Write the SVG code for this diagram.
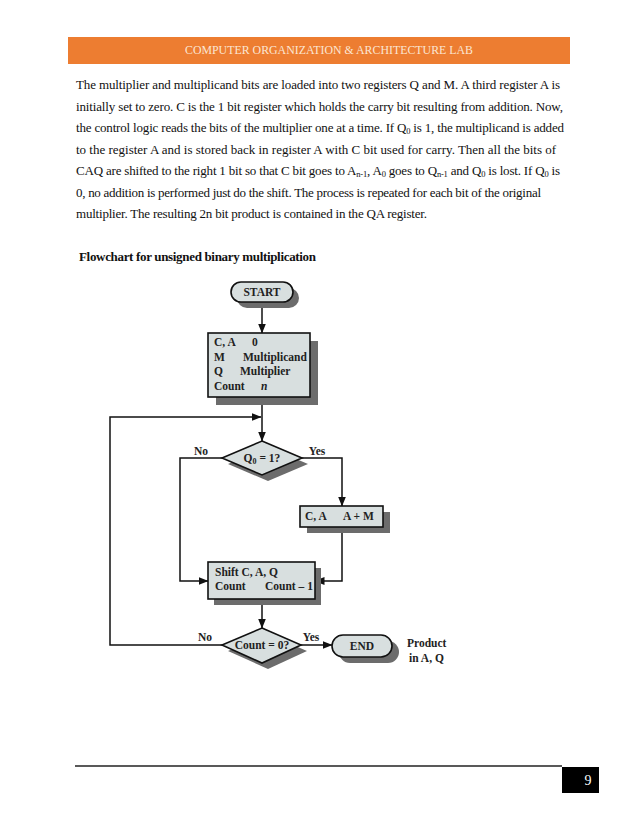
<svg xmlns="http://www.w3.org/2000/svg" width="638" height="826" viewBox="0 0 638 826">
<style>
.body{font-family:"Liberation Serif","Times New Roman",serif;font-size:13px;fill:#111}
.sub{font-size:8.5px}
.hdr{font-family:"Liberation Serif","Times New Roman",serif;font-size:12px;fill:#fbe6d4}
.t{font-family:"Liberation Serif","Times New Roman",serif;font-size:11.5px;font-weight:bold;fill:#222}
.shape{fill:#d8dfdf;stroke:#111;stroke-width:1.6}
.shadow{fill:#6c6c6c}
.conn{fill:none;stroke:#111;stroke-width:1.5}
</style>
<defs>
<marker id="ah" markerWidth="10" markerHeight="8" refX="9.5" refY="4" orient="auto" markerUnits="userSpaceOnUse">
<path d="M0,0 L10,4 L0,8 z" fill="#111"/>
</marker>
</defs>
<rect width="638" height="826" fill="#ffffff"/>
<g id="header">
<rect x="68" y="37" width="502" height="27" fill="#ed7d31"/>
<text class="hdr" x="185" y="54" textLength="288" lengthAdjust="spacingAndGlyphs">COMPUTER ORGANIZATION &amp; ARCHITECTURE LAB</text>
</g>
<g id="paragraph">
<text class="body" x="76" y="89" textLength="484" lengthAdjust="spacing">The multiplier  and multiplicand  bits are loaded into two registers  Q and M. A third register  A is</text>
<text class="body" x="76" y="110.5" textLength="487" lengthAdjust="spacing">initially  set to zero. C is the 1 bit register  which  holds the carry bit resulting  from addition. Now,</text>
<text class="body" x="76" y="132" textLength="488" lengthAdjust="spacing">the control logic  reads the bits of the multiplier  one at a time.  If Q<tspan class="sub" dy="2">0</tspan><tspan dy="-2"> is 1, the multiplicand  is added</tspan></text>
<text class="body" x="76" y="153.5" textLength="480" lengthAdjust="spacing">to the register  A and is stored back in register  A with C bit used for carry. Then  all the bits of</text>
<text class="body" x="76" y="175" textLength="484" lengthAdjust="spacing">CAQ are shifted  to the right  1 bit so that C bit goes to A<tspan class="sub" dy="2">n-1</tspan><tspan dy="-2">, A</tspan><tspan class="sub" dy="2">0</tspan><tspan dy="-2"> goes to Q</tspan><tspan class="sub" dy="2">n-1</tspan><tspan dy="-2"> and Q</tspan><tspan class="sub" dy="2">0</tspan><tspan dy="-2"> is lost.  If Q</tspan><tspan class="sub" dy="2">0</tspan><tspan dy="-2"> is</tspan></text>
<text class="body" x="76" y="196.5" textLength="465" lengthAdjust="spacing">0, no addition  is performed  just do the shift.  The process is repeated for each bit of the original</text>
<text class="body" x="76" y="218" textLength="351" lengthAdjust="spacing">multiplier.  The resulting  2n bit product is contained  in the QA register.</text>
</g>
<g id="caption">
<text class="body" x="79" y="261" font-weight="bold" font-size="12.5" textLength="237" lengthAdjust="spacing">Flowchart  for unsigned binary  multiplication</text>
</g>
<g id="connectors">
<path class="conn" d="M262,302 V333" marker-end="url(#ah)"/>
<path class="conn" d="M262,397 V441" marker-end="url(#ah)"/>
<path class="conn" d="M222,645 H110 V417 H261" marker-end="url(#ah)"/>
<path class="conn" d="M222,458 H180 V581 H208" marker-end="url(#ah)"/>
<path class="conn" d="M302,458 H342 V506" marker-end="url(#ah)"/>
<path class="conn" d="M342,527 V581 H315" marker-end="url(#ah)"/>
<path class="conn" d="M262,599 V628" marker-end="url(#ah)"/>
<path class="conn" d="M301,645 H332" marker-end="url(#ah)"/>
</g>
<g id="start">
<rect class="shadow" x="237" y="288" width="62" height="20" rx="10"/>
<rect class="shape" x="231" y="282" width="62" height="20" rx="10"/>
<text class="t" x="262" y="296" text-anchor="middle">START</text>
</g>
<g id="init">
<rect class="shadow" x="216" y="341" width="102" height="64"/>
<rect class="shape" x="208" y="333" width="102" height="64"/>
<text class="t" x="214" y="346">C, A</text>
<text class="t" x="252" y="346">0</text>
<text class="t" x="214" y="361">M</text>
<text class="t" x="243" y="361">Multiplicand</text>
<text class="t" x="214" y="375">Q</text>
<text class="t" x="240" y="375">Multiplier</text>
<text class="t" x="214" y="390">Count</text>
<text class="t" x="261" y="390" font-style="italic">n</text>
</g>
<g id="q0test">
<polygon class="shadow" points="268,447 308,464 268,481 228,464"/>
<polygon class="shape" points="262,441 302,458 262,475 222,458"/>
<text class="t" x="262" y="462" text-anchor="middle">Q<tspan font-size="8" dy="2">0</tspan><tspan dy="-2"> = 1?</tspan></text>
<text class="t" x="201" y="455" text-anchor="middle">No</text>
<text class="t" x="317" y="455" text-anchor="middle">Yes</text>
</g>
<g id="add">
<rect class="shadow" x="307" y="512" width="83" height="21"/>
<rect class="shape" x="300" y="506" width="83" height="21"/>
<text class="t" x="305" y="520">C, A</text>
<text class="t" x="343" y="520">A + M</text>
</g>
<g id="shift">
<rect class="shadow" x="214" y="568" width="107" height="37"/>
<rect class="shape" x="208" y="562" width="107" height="37"/>
<text class="t" x="215" y="576">Shift C, A, Q</text>
<text class="t" x="215" y="590">Count</text>
<text class="t" x="265" y="590">Count – 1</text>
</g>
<g id="counttest">
<polygon class="shadow" points="268,634 307,651 268,669 228,651"/>
<polygon class="shape" points="262,628 301,645 262,663 222,645"/>
<text class="t" x="262" y="649" text-anchor="middle">Count = 0?</text>
<text class="t" x="205" y="641" text-anchor="middle">No</text>
<text class="t" x="311" y="641" text-anchor="middle">Yes</text>
</g>
<g id="end">
<rect class="shadow" x="339" y="641" width="60" height="22" rx="11"/>
<rect class="shape" x="332" y="635" width="60" height="22" rx="11"/>
<text class="t" x="362" y="650" text-anchor="middle">END</text>
<text class="t" x="407" y="647">Product</text>
<text class="t" x="409" y="662">in A, Q</text>
</g>
<g id="footer">
<line x1="75" y1="766" x2="562" y2="766" stroke="#222" stroke-width="1.5"/>
<rect x="562" y="767" width="37" height="26" fill="#000"/>
<text x="588" y="785" font-family="Liberation Serif, serif" font-size="14" fill="#fff" text-anchor="middle">9</text>
</g>
</svg>
